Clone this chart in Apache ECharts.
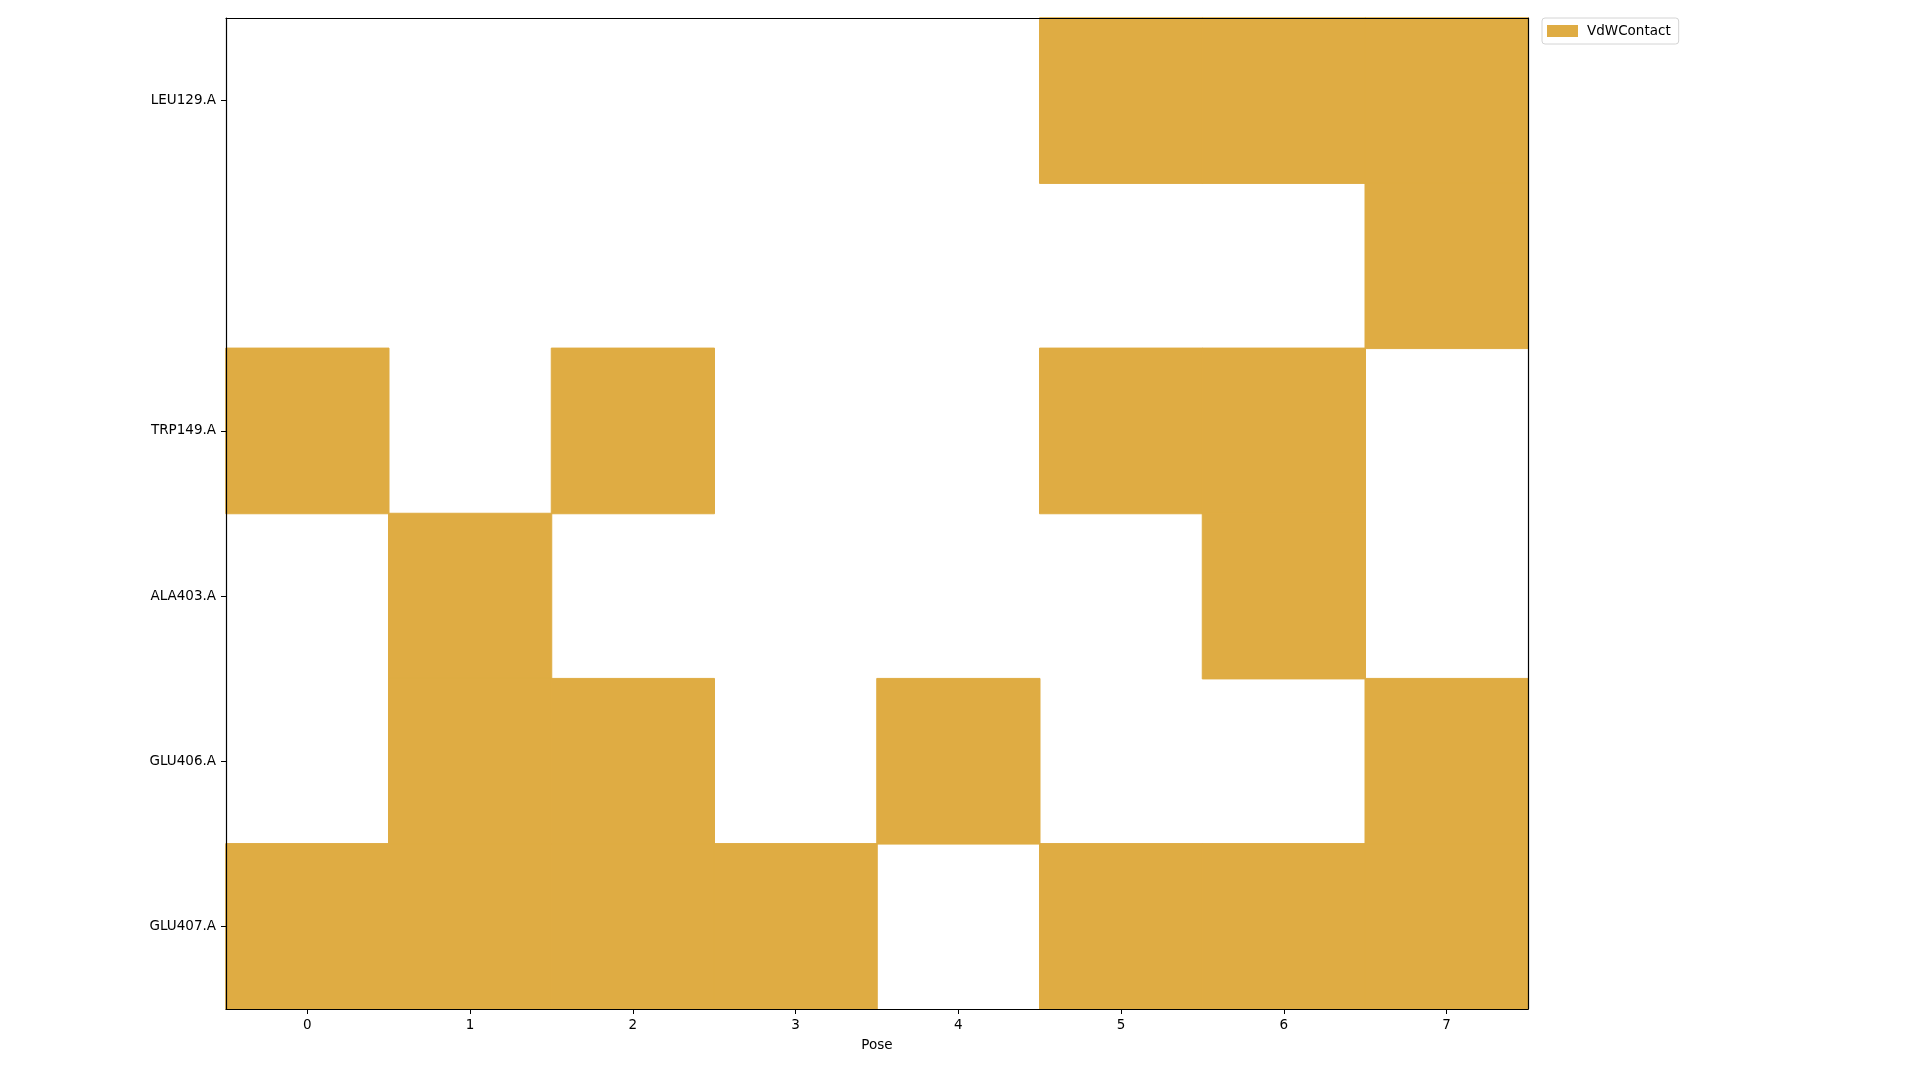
<!DOCTYPE html>
<html>
<head>
<meta charset="utf-8">
<script src="https://cdn.jsdelivr.net/npm/echarts@6/dist/echarts.min.js"></script>
<style>html,body{margin:0;padding:0;background:#fff;}#c{width:1907px;height:1073px;}</style>
</head>
<body>
<div id="c"></div>
<script>
const poses = ['0', '1', '2', '3', '4', '5', '6', '7'];
const residues = ['LEU129.A', '', 'TRP149.A', 'ALA403.A', 'GLU406.A', 'GLU407.A'];
const seriesName = 'VdWContact';
// contact matrix: rows = residues (top to bottom), cols = poses
const row_LEU129 = [0, 0, 0, 0, 0, 1, 1, 1];
const row_blank  = [0, 0, 0, 0, 0, 0, 0, 1];
const row_TRP149 = [1, 0, 1, 0, 0, 1, 1, 0];
const row_ALA403 = [0, 1, 0, 0, 0, 0, 1, 0];
const row_GLU406 = [0, 1, 1, 0, 1, 0, 0, 1];
const row_GLU407 = [1, 1, 1, 1, 0, 1, 1, 1];
const matrix = [row_LEU129, row_blank, row_TRP149, row_ALA403, row_GLU406, row_GLU407];

const data = [];
matrix.forEach((row, r) => row.forEach((v, c) => { if (v) data.push([c, r, v]); }));

const gold = '#dfac43';
const font = 'DejaVu Sans';
const chart = echarts.init(document.getElementById('c'));
chart.setOption({
  animation: false,
  backgroundColor: '#fff',
  textStyle: { fontFamily: font },
  grid: { left: 226, top: 18, right: 379, bottom: 64 },
  legend: {
    left: 1542, top: 18,
    padding: [6, 8, 6, 5],
    borderColor: '#d4d4d4', borderWidth: 1, borderRadius: 3,
    itemWidth: 29, itemHeight: 10,
    icon: 'rect',
    textStyle: { fontFamily: font, fontSize: 13.5, color: '#000', padding: [0, 0, 2, 5] },
    data: [{ name: seriesName, itemStyle: { color: gold } }]
  },
  xAxis: [{
    type: 'category', data: poses, z: 10,
    name: 'Pose', nameLocation: 'middle', nameGap: 29,
    nameTextStyle: { fontFamily: font, fontSize: 13.5, color: '#000' },
    axisLine: { show: true, lineStyle: { color: '#000', width: 1.2 } },
    axisTick: { show: true, alignWithLabel: true, length: 5, lineStyle: { color: '#000' } },
    axisLabel: { fontFamily: font, fontSize: 13.5, color: '#000', margin: 9 },
    splitLine: { show: false }, splitArea: { show: false }
  }, {
    type: 'category', data: poses, position: 'top', z: 10,
    axisLine: { show: true, lineStyle: { color: '#000', width: 1.2 } },
    axisTick: { show: false }, axisLabel: { show: false }
  }],
  yAxis: [{
    type: 'category', data: residues, inverse: true, z: 10,
    axisLine: { show: true, lineStyle: { color: '#000', width: 1.2 } },
    axisTick: { show: true, alignWithLabel: true, length: 5, lineStyle: { color: '#000' },
      interval: (i, v) => v !== '' },
    axisLabel: { fontFamily: font, fontSize: 13.5, color: '#000', margin: 10, interval: 0,
      padding: [4, 0, 0, 0] },
    splitLine: { show: false }, splitArea: { show: false }
  }, {
    type: 'category', data: residues, inverse: true, position: 'right', z: 10,
    axisLine: { show: true, lineStyle: { color: '#000', width: 1.2 } },
    axisTick: { show: false }, axisLabel: { show: false }
  }],
  series: [{
    name: seriesName,
    type: 'heatmap',
    xAxisIndex: 0, yAxisIndex: 0,
    data: data,
    itemStyle: { color: gold, borderColor: gold, borderWidth: 1 },
    emphasis: { disabled: true }
  }]
});
</script>
</body>
</html>
